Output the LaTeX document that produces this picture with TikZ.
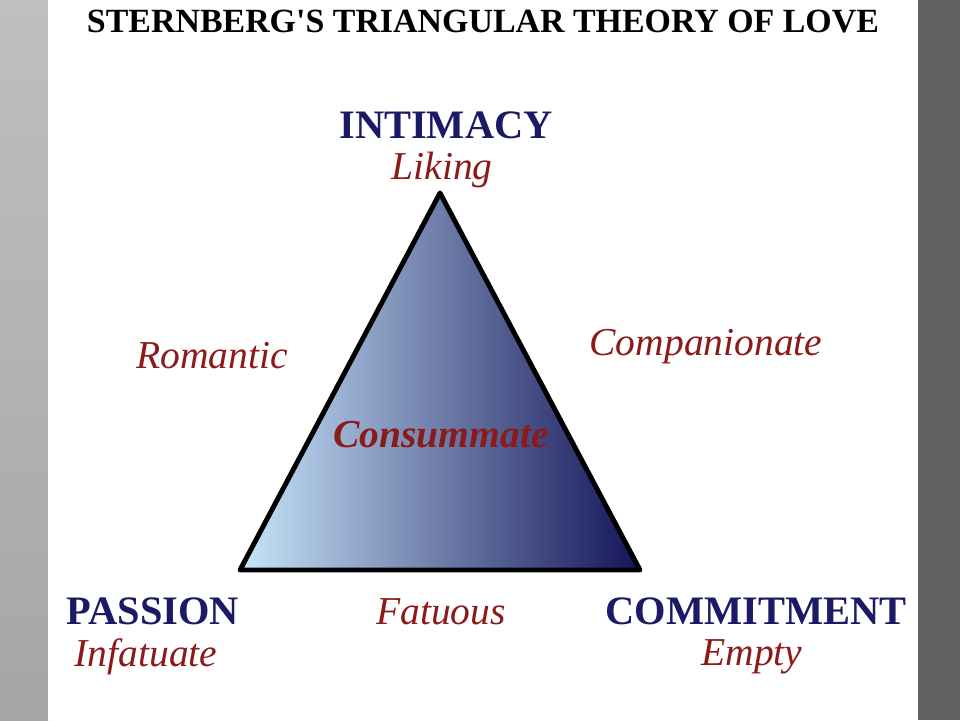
\documentclass[tikz,border=0pt]{standalone}
\usepackage{fontspec}
\setmainfont{Liberation Serif}
\definecolor{navy}{HTML}{1A1A66}
\definecolor{wine}{HTML}{8B1A1A}
\definecolor{lightblue}{HTML}{C8E6FA}
\definecolor{darkblue}{HTML}{141458}
\tikzset{
  corner/.style={text=navy,font=\bfseries\fontsize{23}{26}\selectfont,inner sep=0pt},
  kind/.style={text=wine,font=\itshape\fontsize{22.5}{26}\selectfont,inner sep=0pt}
}
\begin{document}
\begin{tikzpicture}[x=0.02cm,y=-0.02cm]
\useasboundingbox (0,0) rectangle (960,720);
% background
\shade[top color=gray!50,bottom color=gray!70] (0,0) rectangle (48,720);
\fill[white] (48,0) rectangle (918,720);
\fill[black!62] (918,0) rectangle (960,720);
\node[font=\bfseries\fontsize{19.3}{22}\selectfont,inner sep=0pt] (title) at (483,22) {STERNBERG\textquotesingle S TRIANGULAR THEORY OF LOVE};
% triangle
\coordinate (top) at (440,193);
\coordinate (left) at (240,570);
\coordinate (right) at (640,570);
\shade[left color=lightblue,right color=darkblue] (top) -- (left) -- (right) -- cycle;
\draw[line width=2.8pt,line join=round] (top) -- (left) -- (right) -- cycle;
% labels
\node[corner] (intimacy) at (446,125) {INTIMACY};
\node[kind] (liking) at (442,170) {Liking};
\node[kind] (romantic) at (212,356) {Romantic};
\node[kind] (companionate) at (706,347) {Companionate};
\node[kind,font=\bfseries\itshape\fontsize{22.5}{26}\selectfont] (consummate) at (441,435) {Consummate};
\node[corner] (passion) at (153,611) {PASSION};
\node[kind] (infatuate) at (146,657) {Infatuate};
\node[kind] (fatuous) at (441,612) {Fatuous};
\node[corner] (commitment) at (756,611) {COMMITMENT};
\node[kind] (empty) at (752,657) {Empty};
\end{tikzpicture}
\end{document}
